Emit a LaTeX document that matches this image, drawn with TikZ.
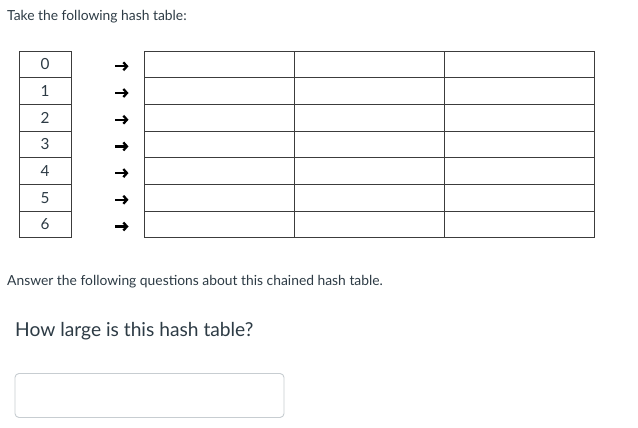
\documentclass[tikz,border=0pt]{standalone}
\usepackage{fontspec}
\usetikzlibrary{arrows.meta}
\setmainfont{Lato}
\definecolor{txt}{HTML}{2D3B45}
\definecolor{gridc}{HTML}{3C3C3C}
\definecolor{boxc}{HTML}{C7CDD1}
\begin{document}
\begin{tikzpicture}[x=1pt,y=-1pt,
  idx/.style={draw=gridc, line width=0.9pt, minimum width=52pt, minimum height=26.7pt,
    inner sep=0pt, outer sep=0pt, text=txt, font=\fontsize{15.3}{17}\selectfont},
  chain/.style={draw=gridc, line width=0.9pt, minimum width=150pt, minimum height=26.7pt,
    inner sep=0pt, outer sep=0pt},
  ptr/.style={line width=2.3pt, black, -{Straight Barb[length=3.6pt,width=8pt]}},
  body/.style={anchor=base west, inner sep=0pt, text=txt, font=\fontsize{13.85}{16}\selectfont},
  question/.style={anchor=base west, inner sep=0pt, text=txt, font=\fontsize{19.2}{22}\selectfont},
  answerbox/.style={draw=boxc, line width=0.9pt, rounded corners=4pt, fill=white}]
\useasboundingbox[fill=white] (0,0) rectangle (638,428);
\node[body] (intro) at (7,20.5) {Take the following hash table:};
\foreach \i in {0,...,6}{
  \node[idx] (i\i) at (45,{64.35+26.7*\i}) {\raisebox{-1.3pt}{\i}};
  \coordinate (as\i) at (115,{66.3+26.7*\i});
  \coordinate (ae\i) at (128.5,{66.3+26.7*\i});
  \draw[ptr] (as\i) -- (ae\i);
  \foreach \j in {0,1,2}{
    \node[chain] (c\i\j) at ({219+150*\j},{64.35+26.7*\i}) {};
  }
}
\node[body] (ask) at (7,285.5) {Answer the following questions about this chained hash table.};
\node[question] (q) at (15,336) {How large is this hash table?};
\draw[answerbox] (15,373.5) rectangle (284,417.5);
\end{tikzpicture}
\end{document}
